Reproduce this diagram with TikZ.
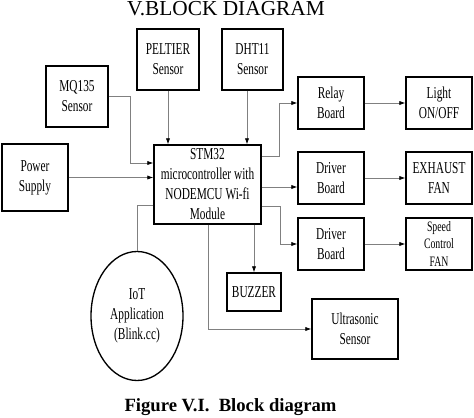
\documentclass[tikz,border=0pt]{standalone}
\usepackage{fontspec}
\setmainfont{Liberation Serif}[FakeStretch=0.68]
\newfontfamily\headfont{Liberation Serif}
\usetikzlibrary{arrows.meta}
\usetikzlibrary{shapes.geometric}

\tikzset{
  blk/.style={draw, line width=1pt, align=center, inner sep=0pt,
    font=\fontsize{12.5}{15}\selectfont},
  link/.style={draw=black!50, line width=0.6pt},
  arr/.style={link, -{Latex[length=4.5pt,width=3.2pt,color=black]}}
}

\begin{document}
\begin{tikzpicture}[x=0.75pt,y=-0.75pt]
  \useasboundingbox (0,0) rectangle (474,417);
  \node[anchor=base,font=\headfont\fontsize{16}{20}\selectfont]
    (title) at (226,16) {V.BLOCK DIAGRAM};
  \node[blk,minimum width=46.5pt,minimum height=45.75pt]
    (mq) at (77,96.5) {MQ135\\Sensor};
  \node[blk,minimum width=46.5pt,minimum height=45.75pt]
    (peltier) at (168,59.5) {PELTIER\\Sensor};
  \node[blk,minimum width=45.75pt,minimum height=45.75pt]
    (dht) at (252.5,59.5) {DHT11\\Sensor};
  \node[blk,minimum width=49.5pt,minimum height=39pt]
    (relay) at (331,103) {Relay\\Board};
  \node[blk,minimum width=49.5pt,minimum height=39pt]
    (light) at (439,103) {Light\\ON/OFF};
  \node[blk,minimum width=80.25pt,minimum height=59.25pt]
    (stm) at (207.5,184.5) {STM32\\microcontroller with\\NODEMCU Wi-fi\\Module};
  \node[blk,minimum width=49.5pt,minimum height=50.25pt]
    (power) at (35,177.5) {Power\\Supply};
  \node[blk,minimum width=49.5pt,minimum height=39pt]
    (driverA) at (331,178) {Driver\\Board};
  \node[blk,minimum width=49.5pt,minimum height=39pt]
    (exhaust) at (439,178) {EXHAUST\\FAN};
  \node[blk,minimum width=49.5pt,minimum height=39pt]
    (driverB) at (331,244) {Driver\\Board};
  \node[blk,minimum width=49.5pt,minimum height=39pt,
    font=\fontsize{10.8}{13}\selectfont]
    (speed) at (439,244) {Speed\\Control\\FAN};
  \node[blk,minimum width=40.5pt,minimum height=28.5pt]
    (buzzer) at (254,292) {BUZZER};
  \node[blk,minimum width=64.5pt,minimum height=45pt]
    (ultra) at (355,329) {Ultrasonic\\Sensor};
  \node[blk,ellipse,minimum width=69pt,minimum height=96.75pt]
    (iot) at (137,316) {IoT\\Application\\(Blink.cc)};
  \node[anchor=base,font=\headfont\bfseries\fontsize{14}{17}\selectfont]
    (caption) at (230.5,411) {Figure V.I.\ \ Block diagram};
  \draw[arr]
    (mq.east)
    -|
    (130,163)
    --
    (stm.west |- 0,163);
  \draw[arr]
    (peltier.south)
    --
    (stm.north -| peltier.south);
  \draw[arr]
    (dht.south -| 247,0)
    --
    (stm.north -| 247,0);
  \draw[arr]
    (stm.east |- 0,156)
    -- ++(18,0)
    |-
    (relay.west);
  \draw[arr]
    (relay.east)
    --
    (light.west);
  \draw[arr]
    (power.east)
    --
    (stm.west |- power.east);
  \draw[arr]
    (stm.east |- 0,187)
    --
    (driverA.west |- 0,187);
  \draw[arr]
    (driverA.east)
    --
    (exhaust.west);
  \draw[arr]
    (stm.east |- 0,206)
    -- ++(19,0)
    |-
    (driverB.west);
  \draw[arr]
    (driverB.east)
    --
    (speed.west);
  \draw[link]
    (stm.west |- 0,205)
    -|
    (iot.north);
  \draw[arr]
    (stm.south -| 208,0)
    |-
    (ultra.west);
  \draw[arr]
    (stm.south -| buzzer.north)
    --
    (buzzer.north);
\end{tikzpicture}
\end{document}
